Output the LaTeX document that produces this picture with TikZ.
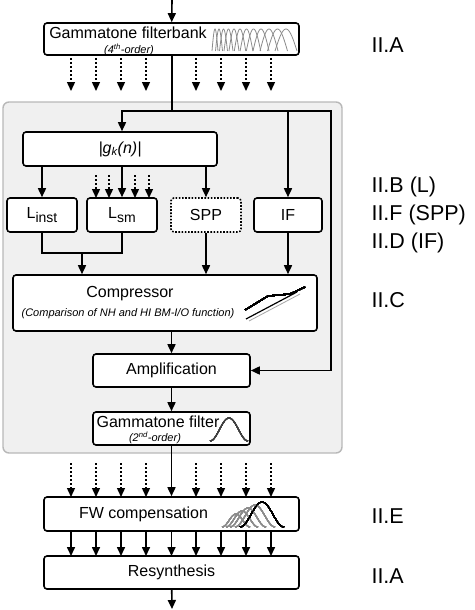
\documentclass[tikz,border=0pt]{standalone}
\usepackage{fontspec}
\setmainfont{Liberation Sans}
\usetikzlibrary{arrows.meta,positioning,calc}

% subscript of the loudness boxes
\newcommand{\lsub}[1]{L\raisebox{-3.5pt}{\fontsize{14}{14}\selectfont #1}}
% one arch shaped filter curve: colour, centre, half width, top, bottom
\newcommand{\arch}[5]{\draw[#1,line width=0.8pt,domain=-#3:#3,samples=25,smooth,variable=\x]
  plot ({#2+\x},{#5-(#5-#4)*cos(90*\x/#3)});}
% one bell shaped filter curve: colour, centre, half width, top, bottom
\newcommand{\bell}[5]{\draw[#1,line width=1pt,domain=-#3:#3,samples=30,smooth,variable=\x]
  plot ({#2+\x},{#5-(#5-#4)*(1+cos(180*\x/#3))/2});}

\begin{document}
\begin{tikzpicture}[x=1pt,y=-1pt,
    box/.style={draw,line width=1.6pt,rounded corners=3pt,fill=white,inner sep=0pt,
                font=\fontsize{16}{16}\selectfont},
    arr/.style={line width=1.6pt,-{Triangle[length=9pt,width=8pt]}},
    dotarr/.style={arr,line width=1.4pt,dash pattern=on 2pt off 2pt},
    big/.style={font=\fontsize{16}{16}\selectfont},
    small/.style={font=\fontsize{11}{11}\selectfont\itshape},
    sec/.style={anchor=west,font=\fontsize{21.5}{21.5}\selectfont}]
    \useasboundingbox (0,0) rectangle (474,610);

    % grey panel of the model
    \draw[rounded corners=6pt,fill=black!6,draw=black!28,line width=1.4pt] (3,102) rectangle (342,453);

    % boxes
    \node[box,minimum width=255pt,minimum height=32pt] (fbank) at (171.5,39) {};
    \node[box,minimum width=194pt,minimum height=34pt] (gk) at (120,149) {\itshape |g\textsubscript{k}(n)|};
    \node[box,minimum width=70pt,minimum height=34pt] (linst) at (42,215) {\lsub{inst}};
    \node[box,minimum width=70pt,minimum height=34pt] (lsm) at (122,215) {\lsub{sm}};
    \node[box,minimum width=70pt,minimum height=34pt,dash pattern=on 1.6pt off 1.6pt] (spp) at (206,215) {SPP};
    \node[box,minimum width=68pt,minimum height=34pt] (ifreq) at (288,215) {IF};
    \node[box,minimum width=304pt,minimum height=56pt] (comp) at (165,303) {};
    \node[box,minimum width=157pt,minimum height=33pt] (amp) at (171.5,370.5) {Amplification};
    \node[box,minimum width=157pt,minimum height=33pt] (gtf) at (171.5,428.5) {};
    \node[box,minimum width=255pt,minimum height=34pt] (fwc) at (171.5,514) {};
    \node[box,minimum width=255pt,minimum height=33pt] (resyn) at (171.5,572.5) {Resynthesis};

    % texts that sit off centre in their boxes
    \node[big] (fbt) at (128,33) {Gammatone filterbank};
    \node[small] (fbo) at (129,50) {(4\textsuperscript{th}-order)};
    \node[big] (compt) at (130,294) {Compressor};
    \node[small] (compo) at (128,314) {(Comparison of NH and HI BM-I/O function)};
    \node[big] (gtft) at (158,422) {Gammatone filter};
    \node[small] (gtfo) at (155,438) {(2\textsuperscript{nd}-order)};
    \node[big] (fwct) at (143.5,514) {FW compensation};

    % little filter pictures
    \foreach \c/\w in {215/3,219/3.5,223.5/4,228.5/4.5,234/5,240/5.7,246.5/6.4,253.5/7.2,261/8,269/9,277.5/10,286/11}
        \arch{black!45}{\c}{\w}{29}{51}
    \bell{black!75}{229}{19}{418}{441}
    \foreach \c/\w/\t in {236/14/514,242/16/511,248/18/508,255/20/505}
        \bell{black!45}{\c}{\w}{\t}{527}
    \bell{black}{262}{22}{502}{527}
    % compression curves
    \draw[line width=1.2pt] (245,310) -- (268,296) -- (290,294) -- (305,287);
    \draw[line width=1.2pt] (246,319) -- (297,292);
    \draw[black!35,line width=0.8pt] (249,321) -- (300,294);

    % section labels
    \node[sec] (sa) at (368,45) {II.A};
    \node[sec] (sb) at (368,187) {II.B (L)};
    \node[sec] (sf) at (368,215) {II.F (SPP)};
    \node[sec] (sd) at (368,243) {II.D (IF)};
    \node[sec] (sc) at (368,300) {II.C};
    \node[sec] (se) at (368,516) {II.E};
    \node[sec] (sa2) at (368,576) {II.A};

    % connectors
    \coordinate (in) at (172,0);
    \coordinate (split) at (172,111);
    \coordinate (fbk) at (331,111);
    \coordinate (lj) at (82,253);
    \coordinate (out) at (172,609);
    \draw[arr] (in) -- (fbank);
    \draw[line width=1.6pt] (fbank.south -| split) -- (split);
    \draw[arr] (split) -| (lsm |- gk.north);
    \draw[arr] (split) -| (ifreq.north);
    \draw[arr] (split) -- (fbk) |- (amp.east);
    \foreach \n in {linst,lsm,spp}
        \draw[arr] (gk.south -| \n) -- (\n);
    \foreach \x in {96,109,135,149}
        \draw[dotarr] (\x,175) -- (\x,198);
    \draw[line width=1.6pt] (linst) |- (lj) -| (lsm);
    \draw[arr] (lj) -- (lj |- comp.north);
    \draw[arr] (spp) -- (spp |- comp.north);
    \draw[arr] (ifreq) -- (ifreq |- comp.north);
    \draw[arr] (comp.south -| amp) -- (amp);
    \draw[arr] (amp) -- (gtf);
    \draw[arr] (gtf) -- (fwc);
    \foreach \x in {71,96,121,146,196,221,246,271} {
        \draw[dotarr] (\x,58) -- (\x,91);
        \draw[dotarr] (\x,463) -- (\x,497);
    }
    \foreach \x in {71,96,121,146,171.5,196,221,246,271}
        \draw[arr] (\x,531) -- (\x,556);
    \draw[arr] (resyn) -- (out);
\end{tikzpicture}
\end{document}
